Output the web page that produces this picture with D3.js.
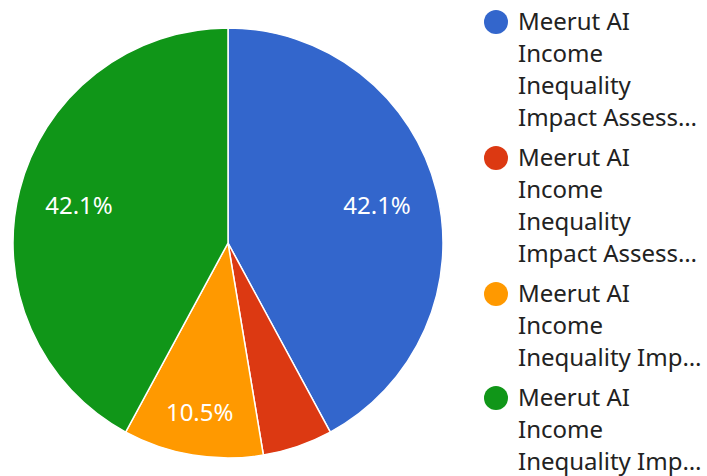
<!DOCTYPE html>
<html>
<head>
<meta charset="utf-8">
<script src="https://cdn.jsdelivr.net/npm/d3@7"></script>
<style>
  body { margin: 0; background: #fff; }
  svg { display: block; font-family: "Noto Sans", sans-serif; }
</style>
</head>
<body>
<div id="chart"></div>
<script>
// Chart size
const width = 707;
const height = 476;

// Slice data (8 / 1 / 2 / 8 of 19)
const categories = ["Meerut AI Income Inequality Impact Assessment A",
                    "Meerut AI Income Inequality Impact Assessment B",
                    "Meerut AI Income Inequality Impact C",
                    "Meerut AI Income Inequality Impact D"];
const values = [8, 1, 2, 8];
const colors = ["#3366cc", "#dc3912", "#ff9900", "#109618"];

// Legend text as it is shown (wrapped and cut)
const legendLines = [
    ["Meerut AI", "Income", "Inequality", "Impact Assess\u2026"],
    ["Meerut AI", "Income", "Inequality", "Impact Assess\u2026"],
    ["Meerut AI", "Income", "Inequality Imp\u2026"],
    ["Meerut AI", "Income", "Inequality Imp\u2026"]
];

const data = categories.map((c, i) => ({ name: c, value: values[i], color: colors[i], lines: legendLines[i] }));

const svg = d3.select("#chart").append("svg")
    .attr("width", width)
    .attr("height", height);

// Pie geometry
const cx = 228, cy = 243, radius = 215;
const total = d3.sum(values);

const pie = d3.pie().value(d => d.value).sort(null);
const arc = d3.arc().innerRadius(0).outerRadius(radius);

const g = svg.append("g").attr("transform", `translate(${cx},${cy})`);

const arcs = pie(data);

g.selectAll("path.slice")
    .data(arcs)
    .join("path")
    .attr("class", "slice")
    .attr("d", arc)
    .attr("fill", d => d.data.color)
    .attr("stroke", "#fff")
    .attr("stroke-width", 1.5);

// Percentage labels, hidden on slices that are too narrow
g.selectAll("text.pct")
    .data(arcs.filter(d => d.endAngle - d.startAngle > 0.5))
    .join("text")
    .attr("class", "pct")
    .attr("transform", d => {
        const span = d.endAngle - d.startAngle;
        const r = span > 1.2 ? radius * 0.715 : radius * 0.8;
        const a = (d.startAngle + d.endAngle) / 2;
        return `translate(${Math.sin(a) * r},${-Math.cos(a) * r})`;
    })
    .attr("text-anchor", "middle")
    .attr("dy", "0.36em")
    .attr("fill", "#fff")
    .style("font-size", "24px")
    .text(d => (d.data.value / total * 100).toFixed(1) + "%");

// Legend
const lineH = 32;
let y = 30;
const legend = svg.append("g");
data.forEach(d => {
    legend.append("circle")
        .attr("cx", 496)
        .attr("cy", y - 8)
        .attr("r", 12)
        .attr("fill", d.color);
    const t = legend.append("text")
        .attr("x", 518)
        .attr("y", y)
        .attr("fill", "#222")
        .style("font-size", "24px");
    d.lines.forEach((line, i) => {
        t.append("tspan")
            .attr("x", 518)
            .attr("y", y + i * lineH)
            .text(line);
    });
    y += d.lines.length * lineH + 8;
});
</script>
</body>
</html>
